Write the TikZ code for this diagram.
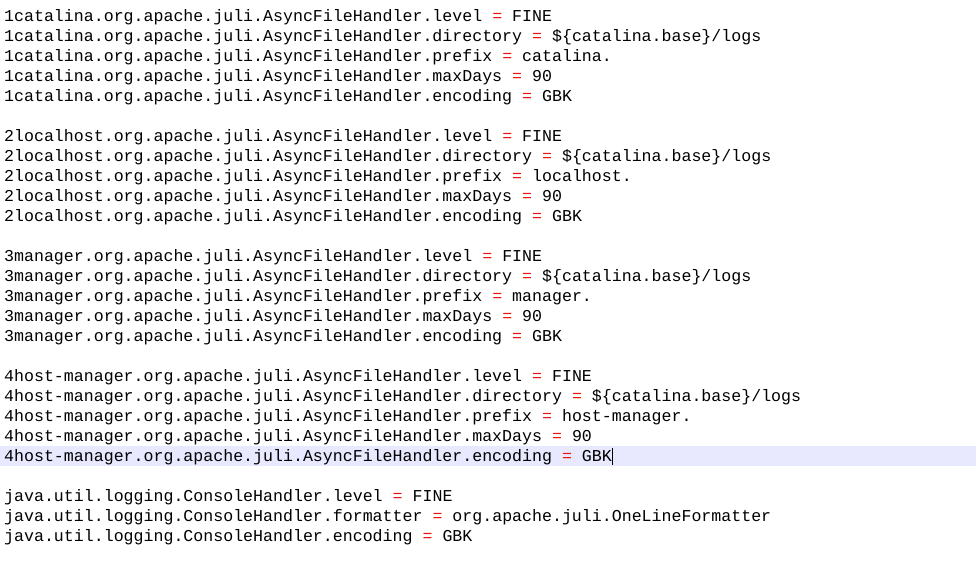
\documentclass[tikz,border=0pt]{standalone}
\usepackage{fontspec}
\setmonofont{Liberation Mono}
\usepackage{xcolor}
\definecolor{hl}{HTML}{E8E8FF}
\definecolor{eqred}{HTML}{F01010}
\newcommand{\eq}{\textcolor{eqred}{=}}
\begin{document}
\begin{tikzpicture}[x=1pt,y=1pt,
  code/.style={anchor=base west,inner sep=0pt,font=\fontsize{16.6pt}{18pt}\ttfamily}]
\useasboundingbox (0,0) rectangle (976,-574);
\fill[white] (0,0) rectangle (976,-574);
\fill[hl] (0,-446) rectangle (976,-466);
\newcommand{\codeline}[3]{\node[code] (#1) at (4,{-21-20*#2}) {#3};}
\codeline{a1}{0}{1catalina.org.apache.juli.AsyncFileHandler.level \eq{} FINE}
\codeline{a2}{1}{1catalina.org.apache.juli.AsyncFileHandler.directory \eq{} \$\{catalina.base\}/logs}
\codeline{a3}{2}{1catalina.org.apache.juli.AsyncFileHandler.prefix \eq{} catalina.}
\codeline{a4}{3}{1catalina.org.apache.juli.AsyncFileHandler.maxDays \eq{} 90}
\codeline{a5}{4}{1catalina.org.apache.juli.AsyncFileHandler.encoding \eq{} GBK}
\codeline{b1}{6}{2localhost.org.apache.juli.AsyncFileHandler.level \eq{} FINE}
\codeline{b2}{7}{2localhost.org.apache.juli.AsyncFileHandler.directory \eq{} \$\{catalina.base\}/logs}
\codeline{b3}{8}{2localhost.org.apache.juli.AsyncFileHandler.prefix \eq{} localhost.}
\codeline{b4}{9}{2localhost.org.apache.juli.AsyncFileHandler.maxDays \eq{} 90}
\codeline{b5}{10}{2localhost.org.apache.juli.AsyncFileHandler.encoding \eq{} GBK}
\codeline{c1}{12}{3manager.org.apache.juli.AsyncFileHandler.level \eq{} FINE}
\codeline{c2}{13}{3manager.org.apache.juli.AsyncFileHandler.directory \eq{} \$\{catalina.base\}/logs}
\codeline{c3}{14}{3manager.org.apache.juli.AsyncFileHandler.prefix \eq{} manager.}
\codeline{c4}{15}{3manager.org.apache.juli.AsyncFileHandler.maxDays \eq{} 90}
\codeline{c5}{16}{3manager.org.apache.juli.AsyncFileHandler.encoding \eq{} GBK}
\codeline{d1}{18}{4host-manager.org.apache.juli.AsyncFileHandler.level \eq{} FINE}
\codeline{d2}{19}{4host-manager.org.apache.juli.AsyncFileHandler.directory \eq{} \$\{catalina.base\}/logs}
\codeline{d3}{20}{4host-manager.org.apache.juli.AsyncFileHandler.prefix \eq{} host-manager.}
\codeline{d4}{21}{4host-manager.org.apache.juli.AsyncFileHandler.maxDays \eq{} 90}
\codeline{d5}{22}{4host-manager.org.apache.juli.AsyncFileHandler.encoding \eq{} GBK}
\codeline{e1}{24}{java.util.logging.ConsoleHandler.level \eq{} FINE}
\codeline{e2}{25}{java.util.logging.ConsoleHandler.formatter \eq{} org.apache.juli.OneLineFormatter}
\codeline{e3}{26}{java.util.logging.ConsoleHandler.encoding \eq{} GBK}
\coordinate (cur) at ([xshift=0.5pt]d5.base east);
\draw[black,line width=1pt] ([yshift=-4pt]cur) -- ([yshift=13pt]cur);
\end{tikzpicture}
\end{document}
